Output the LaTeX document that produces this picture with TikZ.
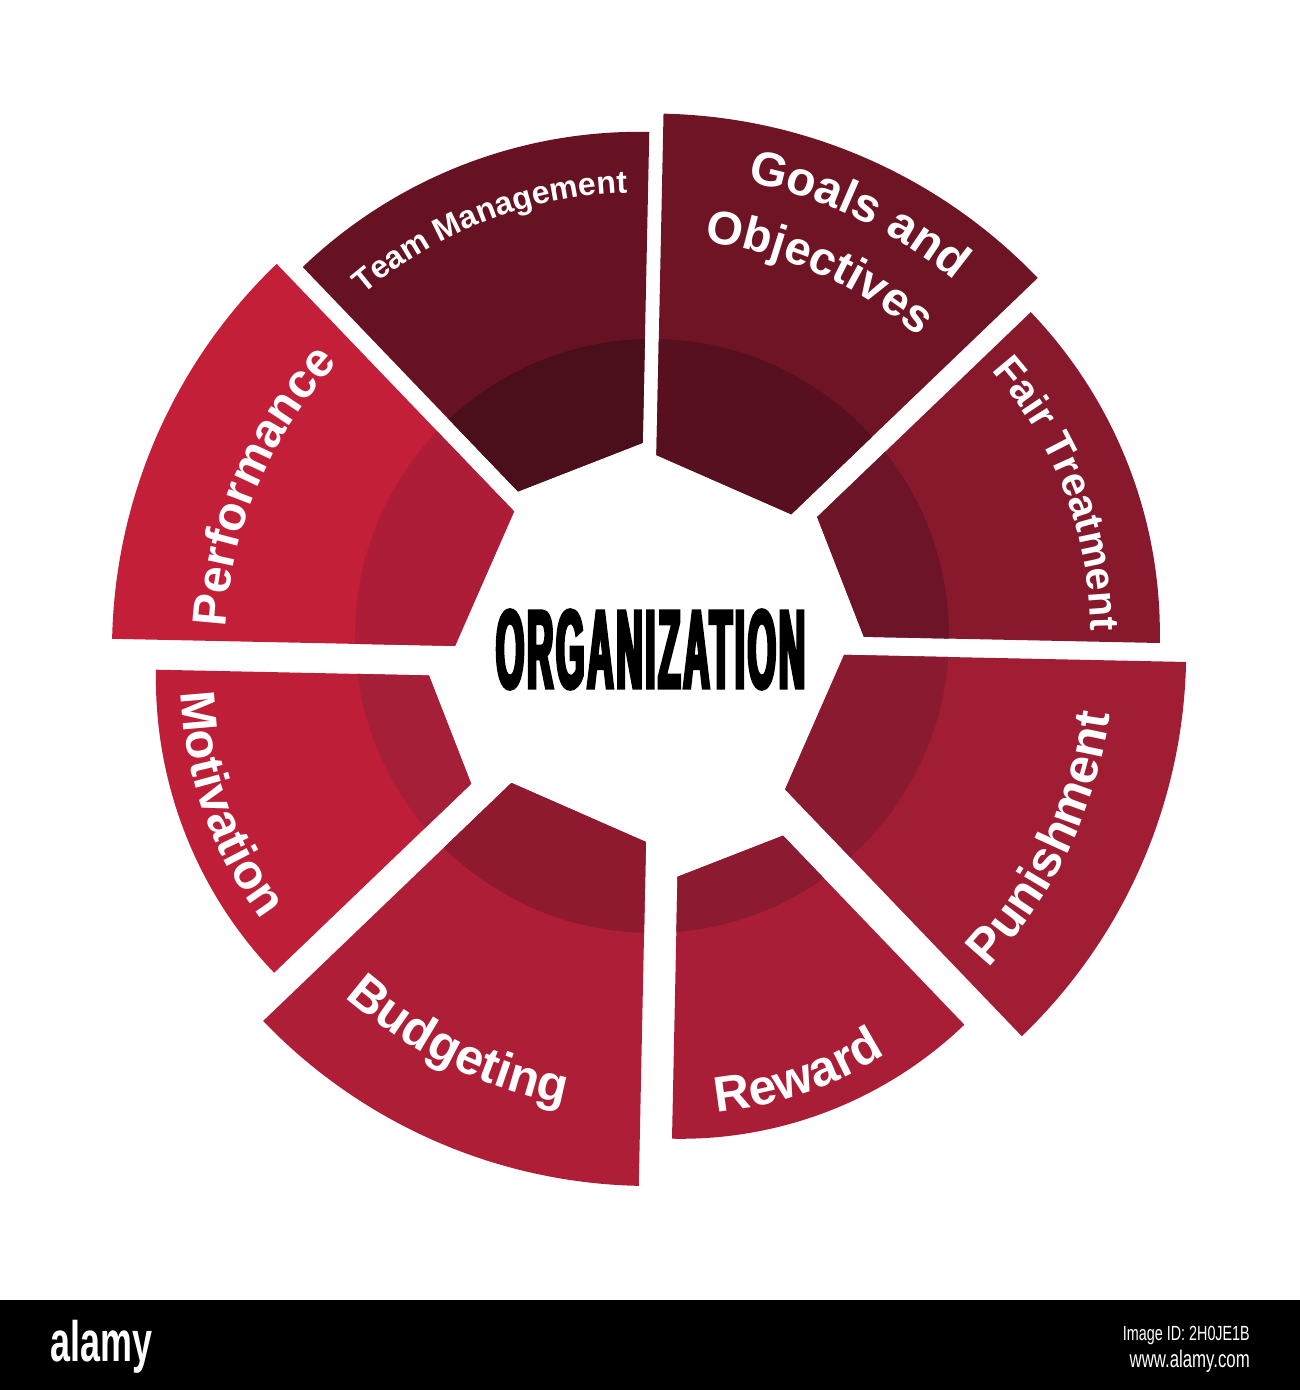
\documentclass[tikz,border=0pt]{standalone}
\usepackage{fontspec}
\setmainfont{Liberation Sans}
\newfontfamily\labelfont{Liberation Sans}
\newfontfamily\titlefont{Liberation Sans Bold}[FakeStretch=0.325,FakeBold=3,LetterSpace=2.5]
\newfontfamily\logofont{Liberation Sans Bold}[FakeStretch=0.63]
\newfontfamily\idfont{Liberation Sans}[FakeStretch=0.7]
\usetikzlibrary{decorations.text}
\newcommand{\arcfont}[1]{\labelfont\bfseries\fontsize{#1}{#1}\selectfont\color{white}}

\definecolor{teamC}{HTML}{661222}
\definecolor{teamD}{HTML}{4B0E1B}
\definecolor{goalsC}{HTML}{6E1424}
\definecolor{goalsD}{HTML}{581020}
\definecolor{fairC}{HTML}{88182C}
\definecolor{fairD}{HTML}{6D1428}
\definecolor{punC}{HTML}{A01D34}
\definecolor{punD}{HTML}{8A1A2F}
\definecolor{rewC}{HTML}{AA1D36}
\definecolor{rewD}{HTML}{8C1A30}
\definecolor{budC}{HTML}{AF1E37}
\definecolor{budD}{HTML}{8F1A30}
\definecolor{motC}{HTML}{BE1E38}
\definecolor{motD}{HTML}{A61F39}
\definecolor{perfC}{HTML}{C41F38}
\definecolor{perfD}{HTML}{AE1D37}

\begin{document}
\begin{tikzpicture}[x=1pt,y=1pt]
\tikzstyle{every node}+=[inner sep=0pt]
\tikzstyle{arclabel}=[decorate, decoration={text along path, text align=center}]
\useasboundingbox (-650,-740) rectangle (650,650);
\fill [white] (-650,-740) rectangle (650,650);
% sectors
\begin{scope}
\clip [shift={(-10.9,32.2)}] (88.8:175) -- (88.8:486) arc (88.8:133.8:486) -- (133.8:175) -- cycle;
\fill [teamC] (0,0) circle (620);
\fill [teamD] (2,14) circle (297);
\end{scope}
\begin{scope}
\clip [shift={(2.35,2.46)}] (43.8:192.5) -- (43.8:534) arc (43.8:88.8:534) -- (88.8:192.5) -- cycle;
\fill [goalsC] (0,0) circle (620);
\fill [goalsD] (2,14) circle (297);
\end{scope}
\begin{scope}
\clip [shift={(45.9,16.7)}] (-1.2:168) -- (-1.2:464) arc (-1.2:43.8:464) -- (43.8:168) -- cycle;
\fill [fairC] (0,0) circle (620);
\fill [fairD] (2,14) circle (297);
\end{scope}
\begin{scope}
\clip [shift={(2.2,-0.8)}] (-46.2:192) -- (-46.2:534) arc (-46.2:-1.2:534) -- (-1.2:192) -- cycle;
\fill [punC] (0,0) circle (620);
\fill [punD] (2,14) circle (297);
\end{scope}
\begin{scope}
\clip [shift={(30.6,-78.8)}] (-91.2:148) -- (-91.2:410) arc (-91.2:-46.2:410) -- (-46.2:148) -- cycle;
\fill [rewC] (0,0) circle (620);
\fill [rewD] (2,14) circle (297);
\end{scope}
\begin{scope}
\clip (-136.2:192) -- (-136.2:536) arc (-136.2:-91.2:536) -- (-91.2:192) -- cycle;
\fill [budC] (0,0) circle (620);
\fill [budD] (2,14) circle (297);
\end{scope}
\begin{scope}
\clip [shift={(-69.1,-28.6)}] (178.8:152) -- (178.8:425) arc (178.8:223.8:425) -- (223.8:152) -- cycle;
\fill [motC] (0,0) circle (620);
\fill [motD] (2,14) circle (297);
\end{scope}
\begin{scope}
\clip [shift={(-3,0)}] (133.8:192) -- (133.8:535) arc (133.8:178.8:535) -- (178.8:192) -- cycle;
\fill [perfC] (0,0) circle (620);
\fill [perfD] (2,14) circle (297);
\end{scope}
% labels
\path [arclabel, decoration={text={|\arcfont{32}|Team Management}}] (-10.9,32.2) ++(139:425) arc (139:83:425);
\path [arclabel, decoration={text={|\arcfont{48}|Goals and}}] (2.35,2.46) ++(92.5:475) arc (92.5:36.5:475);
\path [arclabel, decoration={text={|\arcfont{47}|Objectives}}] (2.35,2.46) ++(94:409) arc (94:38:409);
\path [arclabel, decoration={text={|\arcfont{41}|Fair Treatment}}] (45.9,16.7) ++(49:395) arc (49:-7:395);
\path [arclabel, decoration={text={|\arcfont{50}|Punishment}}] (2.2,-0.8) ++(-53.6:462) arc (-53.6:2.4:462);
\path [arclabel, decoration={text={|\arcfont{50}|Reward}}] (30.6,-78.8) ++(-99.2:385) arc (-99.2:-43.2:385);
\path [arclabel, decoration={text={|\arcfont{50}|Budgeting}}] (0,0) ++(-144:462) arc (-144:-88:462);
\path [arclabel, decoration={text={|\arcfont{49}|Motivation}}] (-69.1,-28.6) ++(171.5:400) arc (171.5:227.5:400);
\path [arclabel, decoration={text={|\arcfont{48}|Performance}}] (-3,0) ++(185:422) arc (185:129:422);
\node (org) at (0.5,0.5) {\titlefont\fontsize{112}{112}\selectfont ORGANIZATION};
% footer
\fill [black] (-650,-650) rectangle (650,-740);
\node (logo) [anchor=base west, text=white] at (-600,-711) {\logofont\fontsize{57}{57}\selectfont alamy};
\node (imgid) [anchor=base east, text=white] at (600,-690) {\idfont\fontsize{20.5}{20.5}\selectfont Image ID: 2H0JE1B};
\node (site) [anchor=base east, text=white] at (600,-717) {\idfont\fontsize{24}{24}\selectfont www.alamy.com};
\end{tikzpicture}
\end{document}
